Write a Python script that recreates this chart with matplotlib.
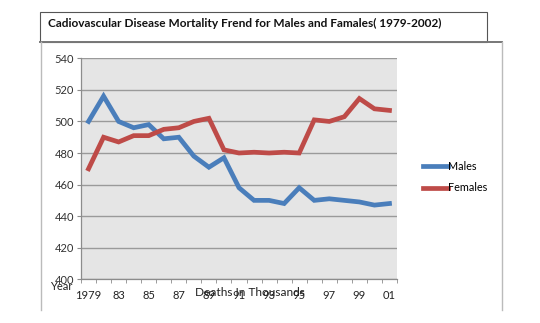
"""Cardiovascular disease mortality trend, males vs females (Excel-style line chart)."""

import matplotlib

matplotlib.use("Agg")
import matplotlib.pyplot as plt
from matplotlib.lines import Line2D
from matplotlib.patches import Rectangle

TITLE = "Cadiovascular Disease Mortality Frend for Males and Famales( 1979-2002)"
TICK_LABELS = ["1979", "83", "85", "87", "89", "91", "93", "95", "97", "99", "01"]
MALES = [500, 516, 500, 496, 498, 489, 490, 478, 471, 477, 458,
         450, 450, 448, 458, 450, 451, 450, 449, 447, 448]
FEMALES = [470, 490, 487, 491, 491, 495, 496, 500, 502, 482, 480,
           480.5, 480, 480.5, 480, 501, 500, 503, 514.5, 508, 507]
SERIES_NAMES = ["Males", "Females"]
COLORS = ["#4a7ebb", "#be4b48"]

W, H = 540, 323

plt.rcParams["font.family"] = ["Lato", "DejaVu Sans"]


def fx(px):
    return px / W


def fy(py):
    return 1 - py / H


def main() -> None:
    fig = plt.figure(figsize=(W / 100, H / 100), dpi=100)
    ax = fig.add_axes([fx(81), fy(279.3), fx(397) - fx(81), fy(58.3) - fy(279.3)])
    ax.set_facecolor("#e5e5e5")

    x = list(range(len(MALES)))
    for values, name, color in zip([MALES, FEMALES], SERIES_NAMES, COLORS):
        ax.plot(x, values, color=color, lw=3.4, label=name, solid_joinstyle="miter")

    ax.set_xlim(-0.5, len(MALES) - 0.5)
    ax.set_ylim(400, 540)
    ax.set_yticks(range(400, 541, 20))
    ax.yaxis.grid(True, color="#9a9a9a", lw=1.0)
    ax.set_axisbelow(True)

    ax.set_xticks(range(0, len(MALES), 2))
    ax.set_xticklabels(TICK_LABELS)
    ax.set_xticks([i - 0.5 for i in range(len(MALES) + 1)], minor=True)
    ax.tick_params(axis="x", which="major", length=0, pad=8, labelsize=8,
                   colors="#222222")
    ax.tick_params(axis="x", which="minor", length=3, direction="out",
                   color="#8c8c8c")
    ax.tick_params(axis="y", length=3, direction="out", color="#8c8c8c",
                   labelsize=8, labelcolor="#333333", pad=2)

    for side in ["top", "right"]:
        ax.spines[side].set_visible(False)
    for side in ["left", "bottom"]:
        ax.spines[side].set_color("#8c8c8c")
        ax.spines[side].set_linewidth(0.9)

    # outer frame and title box
    fig.add_artist(Rectangle((fx(40), fy(42)), fx(487) - fx(40), fy(12) - fy(42),
                             transform=fig.transFigure, fill=False,
                             edgecolor="#555555", lw=0.8))
    fig.add_artist(Line2D([fx(40), fx(502)], [fy(42), fy(42)],
                          transform=fig.transFigure, color="#777777", lw=1.4))
    fig.add_artist(Line2D([fx(41), fx(41)], [fy(42), fy(310)],
                          transform=fig.transFigure, color="#bbbbbb", lw=1.0))
    fig.add_artist(Line2D([fx(502), fx(502)], [fy(42), fy(310)],
                          transform=fig.transFigure, color="#bbbbbb", lw=1.0))

    fig.text(fx(48), fy(23), TITLE, fontsize=8.6, fontweight="bold",
             va="center", ha="left", color="#111111")
    fig.text(fx(50), fy(287), "Year", fontsize=8, va="center", ha="left",
             color="#222222")
    fig.text(fx(250), fy(293), "Deaths In Thousands", fontsize=8.6, va="center",
             ha="center", color="#222222")

    fig.legend(loc="center left", bbox_to_anchor=(fx(413), fy(177)),
               frameon=False, fontsize=7.8, handlelength=2.3,
               handletextpad=0.05, labelspacing=1.0)

    fig.savefig("out.png", dpi=100)


if __name__ == "__main__":
    main()
